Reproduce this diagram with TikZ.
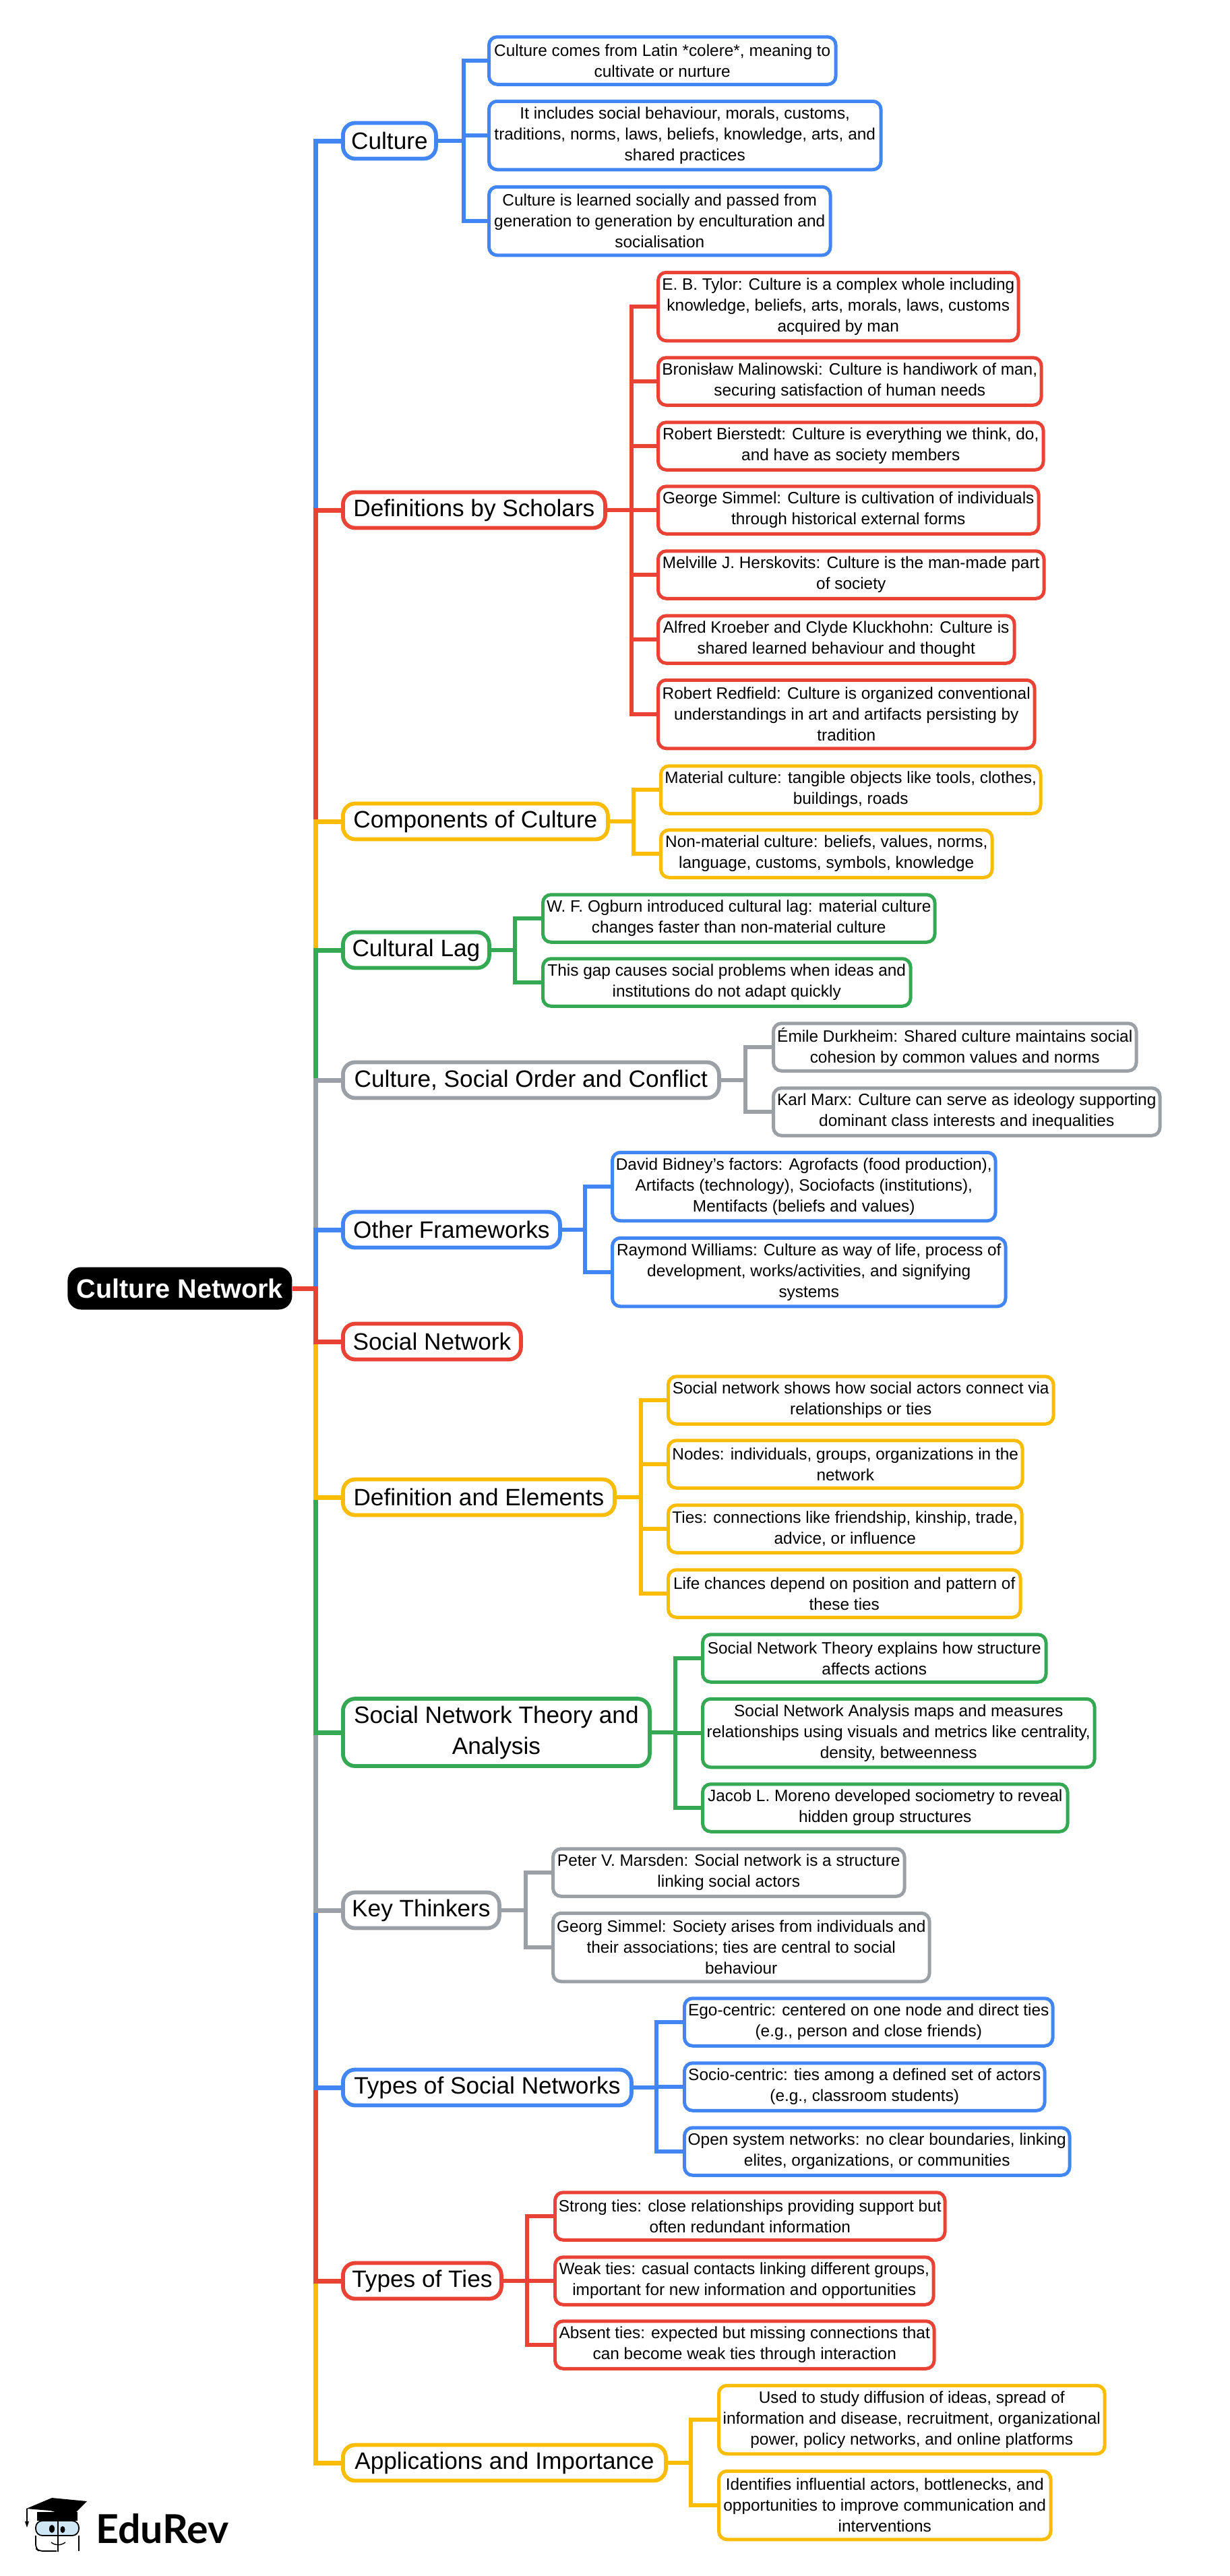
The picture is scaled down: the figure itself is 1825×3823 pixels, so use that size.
\documentclass[tikz,border=0pt]{standalone}
\usepackage{fontspec}
\setmainfont{Liberation Sans}
\newfontfamily\logofont{Lato}
\definecolor{cblue}{HTML}{4285F4}
\definecolor{cred}{HTML}{EA4335}
\definecolor{cyellow}{HTML}{FBBC04}
\definecolor{cgreen}{HTML}{34A853}
\definecolor{cgray}{HTML}{9AA0A6}
\definecolor{cglass}{HTML}{CFE6F5}
\tikzset{
    rootbox/.style={fill=black, text=white, rounded corners=10pt, anchor=west, inner sep=0pt, minimum height=31.5pt, font=\fontsize{19.8}{22}\selectfont\bfseries},
    branchbox/.style={draw, line width=2.9pt, fill=white, rounded corners=9pt, anchor=west, xshift=-0.5pt, align=center, inner sep=0pt, minimum height=26.5pt, font=\fontsize{17.6}{23}\selectfont},
    leafbox/.style={draw, line width=2.5pt, fill=white, rounded corners=6pt, anchor=west, xshift=-0.5pt, align=center, inner sep=0pt, minimum height=35.25pt, font=\fontsize{12.2}{15.5}\selectfont},
    leafthree/.style={leafbox, minimum height=50.75pt},
    spine/.style={line width=3.5pt},
    bus/.style={line width=3pt}
}
\begin{document}
\begin{tikzpicture}[x=0.5pt, y=-0.5pt]
        \useasboundingbox (0, 0) rectangle (1825, 3823);
        \node[rootbox, minimum width=166.5pt] (root) at (100, 1912) {Culture Network};
        \coordinate (rootbus) at (468, 1912);

        \node[branchbox, draw=cblue, minimum width=69pt] (culture) at (507, 209) {Culture};
        \node[branchbox, draw=cred, minimum width=194.5pt] (scholars) at (507, 757) {Definitions by Scholars};
        \node[branchbox, draw=cyellow, minimum width=196.5pt] (components) at (507, 1219) {Components of Culture};
        \node[branchbox, draw=cgreen, minimum width=108.5pt] (lag) at (507, 1410) {Cultural Lag};
        \node[branchbox, draw=cgray, minimum width=279pt] (conflict) at (507, 1603) {Culture, Social Order and Conflict};
        \node[branchbox, draw=cblue, minimum width=161pt] (frameworks) at (507, 1825) {Other Frameworks};
        \node[branchbox, draw=cred, minimum width=132pt] (social) at (507, 1991) {Social Network};
        \node[branchbox, draw=cyellow, minimum width=201.5pt] (elements) at (507, 2222) {Definition and Elements};
        \node[branchbox, draw=cgreen, minimum width=227.5pt, minimum height=50pt] (theory) at (507, 2571) {Social Network Theory and\\Analysis};
        \node[branchbox, draw=cgray, minimum width=116pt] (thinkers) at (507, 2835) {Key Thinkers};
        \node[branchbox, draw=cblue, minimum width=214pt] (types) at (507, 3098) {Types of Social Networks};
        \node[branchbox, draw=cred, minimum width=117.5pt] (ties) at (507, 3385) {Types of Ties};
        \node[branchbox, draw=cyellow, minimum width=239.5pt] (uses) at (507, 3655) {Applications and Importance};

        \node[leafbox, draw=cblue, minimum width=257.25pt] (culture1) at (724, 90) {Culture comes from Latin *colere*, meaning to\\cultivate or nurture};
        \node[leafthree, draw=cblue, minimum width=290.75pt] (culture2) at (724, 201) {It includes social behaviour, morals, customs,\\traditions, norms, laws, beliefs, knowledge, arts, and\\shared practices};
        \node[leafthree, draw=cblue, minimum width=253.25pt] (culture3) at (724, 328) {Culture is learned socially and passed from\\generation to generation by enculturation and\\socialisation};

        \node[leafthree, draw=cred, minimum width=267.25pt] (scholars1) at (975, 455) {E. B. Tylor: Culture is a complex whole including\\knowledge, beliefs, arts, morals, laws, customs\\acquired by man};
        \node[leafbox, draw=cred, minimum width=284.25pt] (scholars2) at (975, 566) {Bronisław Malinowski: Culture is handiwork of man,\\securing satisfaction of human needs};
        \node[leafbox, draw=cred, minimum width=285.75pt] (scholars3) at (975, 662) {Robert Bierstedt: Culture is everything we think, do,\\and have as society members};
        \node[leafbox, draw=cred, minimum width=282.25pt] (scholars4) at (975, 757) {George Simmel: Culture is cultivation of individuals\\through historical external forms};
        \node[leafbox, draw=cred, minimum width=286.25pt] (scholars5) at (975, 853) {Melville J. Herskovits: Culture is the man-made part\\of society};
        \node[leafbox, draw=cred, minimum width=264.25pt] (scholars6) at (975, 949) {Alfred Kroeber and Clyde Kluckhohn: Culture is\\shared learned behaviour and thought};
        \node[leafthree, draw=cred, minimum width=279.25pt] (scholars7) at (975, 1060) {Robert Redfield: Culture is organized conventional\\understandings in art and artifacts persisting by\\tradition};

        \node[leafbox, draw=cyellow, minimum width=281.75pt] (components1) at (979, 1172) {Material culture: tangible objects like tools, clothes,\\buildings, roads};
        \node[leafbox, draw=cyellow, minimum width=245.75pt] (components2) at (979, 1267) {Non-material culture: beliefs, values, norms,\\language, customs, symbols, knowledge};

        \node[leafbox, draw=cgreen, minimum width=290.75pt] (lag1) at (804, 1363) {W. F. Ogburn introduced cultural lag: material culture\\changes faster than non-material culture};
        \node[leafbox, draw=cgreen, minimum width=272.75pt] (lag2) at (804, 1458) {This gap causes social problems when ideas and\\institutions do not adapt quickly};

        \node[leafbox, draw=cgray, minimum width=269.25pt] (conflict1) at (1146, 1554) {Émile Durkheim: Shared culture maintains social\\cohesion by common values and norms};
        \node[leafbox, draw=cgray, minimum width=286.75pt] (conflict2) at (1146, 1650) {Karl Marx: Culture can serve as ideology supporting\\dominant class interests and inequalities};

        \node[leafthree, draw=cblue, minimum width=284.25pt] (frameworks1) at (907, 1761) {David Bidney's factors: Agrofacts (food production),\\Artifacts (technology), Sociofacts (institutions),\\Mentifacts (beliefs and values)};
        \node[leafthree, draw=cblue, minimum width=291.75pt] (frameworks2) at (907, 1888) {Raymond Williams: Culture as way of life, process of\\development, works/activities, and signifying\\systems};

        \node[leafbox, draw=cyellow, minimum width=285.75pt] (elements1) at (990, 2078) {Social network shows how social actors connect via\\relationships or ties};
        \node[leafbox, draw=cyellow, minimum width=262.75pt] (elements2) at (990, 2173) {Nodes: individuals, groups, organizations in the\\network};
        \node[leafbox, draw=cyellow, minimum width=262.25pt] (elements3) at (990, 2269) {Ties: connections like friendship, kinship, trade,\\advice, or influence};
        \node[leafbox, draw=cyellow, minimum width=261.25pt] (elements4) at (990, 2365) {Life chances depend on position and pattern of\\these ties};

        \node[leafbox, draw=cgreen, minimum width=254.75pt] (theory1) at (1041, 2461) {Social Network Theory explains how structure\\affects actions};
        \node[leafthree, draw=cgreen, minimum width=290.75pt] (theory2) at (1041, 2572) {Social Network Analysis maps and measures\\relationships using visuals and metrics like centrality,\\density, betweenness};
        \node[leafbox, draw=cgreen, minimum width=270.75pt] (theory3) at (1041, 2683) {Jacob L. Moreno developed sociometry to reveal\\hidden group structures};

        \node[leafbox, draw=cgray, minimum width=260.75pt] (thinkers1) at (819, 2779) {Peter V. Marsden: Social network is a structure\\linking social actors};
        \node[leafthree, draw=cgray, minimum width=279.25pt] (thinkers2) at (819, 2890) {Georg Simmel: Society arises from individuals and\\their associations; ties are central to social\\behaviour};

        \node[leafbox, draw=cblue, minimum width=273.25pt] (types1) at (1014, 3001) {Ego-centric: centered on one node and direct ties\\(e.g., person and close friends)};
        \node[leafbox, draw=cblue, minimum width=267.25pt] (types2) at (1014, 3097) {Socio-centric: ties among a defined set of actors\\(e.g., classroom students)};
        \node[leafbox, draw=cblue, minimum width=285.75pt] (types3) at (1014, 3193) {Open system networks: no clear boundaries, linking\\elites, organizations, or communities};

        \node[leafbox, draw=cred, minimum width=289.25pt] (ties1) at (822, 3289) {Strong ties: close relationships providing support but\\often redundant information};
        \node[leafbox, draw=cred, minimum width=280.75pt] (ties2) at (822, 3385) {Weak ties: casual contacts linking different groups,\\important for new information and opportunities};
        \node[leafbox, draw=cred, minimum width=281.25pt] (ties3) at (822, 3480) {Absent ties: expected but missing connections that\\can become weak ties through interaction};

        \node[leafthree, draw=cyellow, minimum width=286.25pt] (uses1) at (1065, 3591) {Used to study diffusion of ideas, spread of\\information and disease, recruitment, organizational\\power, policy networks, and online platforms};
        \node[leafthree, draw=cyellow, minimum width=246.25pt] (uses2) at (1065, 3718) {Identifies influential actors, bottlenecks, and\\opportunities to improve communication and\\interventions};

        \coordinate (culturebus) at (688, 209);
        \coordinate (scholarsbus) at (937, 757);
        \coordinate (componentsbus) at (940, 1219);
        \coordinate (lagbus) at (764, 1410);
        \coordinate (conflictbus) at (1106, 1603);
        \coordinate (frameworksbus) at (868, 1825);
        \coordinate (elementsbus) at (951, 2222);
        \coordinate (theorybus) at (1002, 2571);
        \coordinate (thinkersbus) at (780, 2835);
        \coordinate (typesbus) at (974, 3098);
        \coordinate (tiesbus) at (782, 3385);
        \coordinate (usesbus) at (1025, 3655);

        \draw[bus, cblue] (culture.east) -- (culturebus) |- (culture1.west);
        \draw[bus, cblue] (culture.east) -- (culturebus) |- (culture2.west);
        \draw[bus, cblue] (culture.east) -- (culturebus) |- (culture3.west);
        \draw[bus, cred] (scholars.east) -- (scholarsbus) |- (scholars1.west);
        \draw[bus, cred] (scholars.east) -- (scholarsbus) |- (scholars2.west);
        \draw[bus, cred] (scholars.east) -- (scholarsbus) |- (scholars3.west);
        \draw[bus, cred] (scholars.east) -- (scholarsbus) |- (scholars4.west);
        \draw[bus, cred] (scholars.east) -- (scholarsbus) |- (scholars5.west);
        \draw[bus, cred] (scholars.east) -- (scholarsbus) |- (scholars6.west);
        \draw[bus, cred] (scholars.east) -- (scholarsbus) |- (scholars7.west);
        \draw[bus, cyellow] (components.east) -- (componentsbus) |- (components1.west);
        \draw[bus, cyellow] (components.east) -- (componentsbus) |- (components2.west);
        \draw[bus, cgreen] (lag.east) -- (lagbus) |- (lag1.west);
        \draw[bus, cgreen] (lag.east) -- (lagbus) |- (lag2.west);
        \draw[bus, cgray] (conflict.east) -- (conflictbus) |- (conflict1.west);
        \draw[bus, cgray] (conflict.east) -- (conflictbus) |- (conflict2.west);
        \draw[bus, cblue] (frameworks.east) -- (frameworksbus) |- (frameworks1.west);
        \draw[bus, cblue] (frameworks.east) -- (frameworksbus) |- (frameworks2.west);
        \draw[bus, cyellow] (elements.east) -- (elementsbus) |- (elements1.west);
        \draw[bus, cyellow] (elements.east) -- (elementsbus) |- (elements2.west);
        \draw[bus, cyellow] (elements.east) -- (elementsbus) |- (elements3.west);
        \draw[bus, cyellow] (elements.east) -- (elementsbus) |- (elements4.west);
        \draw[bus, cgreen] (theory.east) -- (theorybus) |- (theory1.west);
        \draw[bus, cgreen] (theory.east) -- (theorybus) |- (theory2.west);
        \draw[bus, cgreen] (theory.east) -- (theorybus) |- (theory3.west);
        \draw[bus, cgray] (thinkers.east) -- (thinkersbus) |- (thinkers1.west);
        \draw[bus, cgray] (thinkers.east) -- (thinkersbus) |- (thinkers2.west);
        \draw[bus, cblue] (types.east) -- (typesbus) |- (types1.west);
        \draw[bus, cblue] (types.east) -- (typesbus) |- (types2.west);
        \draw[bus, cblue] (types.east) -- (typesbus) |- (types3.west);
        \draw[bus, cred] (ties.east) -- (tiesbus) |- (ties1.west);
        \draw[bus, cred] (ties.east) -- (tiesbus) |- (ties2.west);
        \draw[bus, cred] (ties.east) -- (tiesbus) |- (ties3.west);
        \draw[bus, cyellow] (uses.east) -- (usesbus) |- (uses1.west);
        \draw[bus, cyellow] (uses.east) -- (usesbus) |- (uses2.west);

        \draw[spine, cblue] (root.east) -- (rootbus) |- (culture.west);
        \draw[spine, cred] (root.east) -- (rootbus) |- (scholars.west);
        \draw[spine, cyellow] (root.east) -- (rootbus) |- (components.west);
        \draw[spine, cgreen] (root.east) -- (rootbus) |- (lag.west);
        \draw[spine, cgray] (root.east) -- (rootbus) |- (conflict.west);
        \draw[spine, cblue] (root.east) -- (rootbus) |- (frameworks.west);
        \draw[spine, cyellow] (root.east) -- (rootbus) |- (uses.west);
        \draw[spine, cred] (root.east) -- (rootbus) |- (ties.west);
        \draw[spine, cblue] (root.east) -- (rootbus) |- (types.west);
        \draw[spine, cgray] (root.east) -- (rootbus) |- (thinkers.west);
        \draw[spine, cgreen] (root.east) -- (rootbus) |- (theory.west);
        \draw[spine, cyellow] (root.east) -- (rootbus) |- (elements.west);
        \draw[spine, cred] (root.east) -- (rootbus) |- (social.west);

        \draw[line width=0.9pt, rounded corners=3pt] (53, 3763) -- (53, 3782) -- (58, 3786) -- (84, 3786);
        \draw[line width=0.9pt, rounded corners=3pt] (117, 3763) -- (117, 3786);
        \fill (55, 3728) -- (115, 3728) -- (115, 3741) -- (55, 3741) -- cycle;
        \draw[line width=0.9pt, fill=cglass, rounded corners=5pt] (53, 3741) rectangle (117, 3763);
        \draw[line width=1.2pt] (86, 3738) -- (86, 3787);
        \fill (39, 3723) -- (77, 3707) -- (129, 3712) -- (106, 3735) -- (75, 3726) -- cycle;
        \draw[line width=0.6pt] (40, 3723) -- (40, 3742);
        \fill (37, 3742) -- (43, 3742) -- (40, 3751) -- cycle;
        \fill (77, 3753) ellipse [x radius=4, y radius=6];
        \fill (93, 3754) ellipse [x radius=3.5, y radius=5];
        \draw[line width=0.7pt] (76, 3773) .. controls (82, 3778) and (90, 3778) .. (97, 3773);
        \node[anchor=west, inner sep=0pt, font=\fontsize{29.5}{32}\selectfont\logofont\bfseries] (logo) at (142, 3753) {EduRev};
    \end{tikzpicture}
\end{document}
